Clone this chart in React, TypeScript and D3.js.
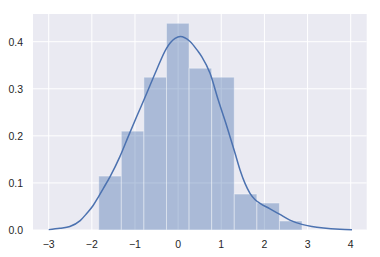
import React from "react";
import * as d3 from "d3";

const binEdges = [-1.841, -1.317, -0.794, -0.270, 0.254, 0.777, 1.301, 1.825, 2.348, 2.872];
const binDensity = [0.1146, 0.210, 0.3246, 0.4392, 0.3437, 0.3246, 0.0764, 0.0573, 0.0191];

const kdeX = [-3.0, -2.74, -2.51, -2.27, -2.12, -1.97, -1.85, -1.73, -1.58, -1.35, -1.15, -0.96, -0.73, -0.5, -0.27, -0.07, 0.05, 0.27, 0.45, 0.55, 0.74, 0.93, 1.13, 1.32, 1.435, 1.55, 1.666, 1.78, 1.9, 2.13, 2.36, 2.59, 2.87, 3.1, 3.37, 3.75, 4.03];
const kdeY = [0.0008, 0.0036, 0.0075, 0.02, 0.035, 0.052, 0.07, 0.089, 0.113, 0.156, 0.2, 0.241, 0.29, 0.34, 0.386, 0.407, 0.411, 0.401, 0.381, 0.368, 0.333, 0.276, 0.22, 0.163, 0.1275, 0.099, 0.078, 0.065, 0.0567, 0.045, 0.033, 0.021, 0.012, 0.0075, 0.0042, 0.0015, 0.0005];

const xTicks = [-3, -2, -1, 0, 1, 2, 3, 4];
const yTicks = [0.0, 0.1, 0.2, 0.3, 0.4];

export default function App() {
  const W = 380, H = 257;
  const left = 33, right = 366.7, top = 14, bottom = 230;
  const x = d3.scaleLinear().domain([-3.364, 4.371]).range([left, right]);
  const y = d3.scaleLinear().domain([0, 0.4589]).range([bottom, top]);
  const color = "#4C72B0";
  const line = d3.line<number>()
    .x((_, i) => x(kdeX[i]))
    .y((d) => y(d))
    .curve(d3.curveMonotoneX);
  const font = "'Liberation Sans', Arial, sans-serif";
  return (
    <svg width={W} height={H} style={{ position: "absolute", left: 0, top: 0 }}>
      <rect x={0} y={0} width={W} height={H} fill="#fff" />
      <rect x={left} y={top} width={right - left} height={bottom - top} fill="#EAEAF2" />
      {xTicks.map((t) => (
        <line key={"gx" + t} x1={x(t)} x2={x(t)} y1={top} y2={bottom} stroke="#fff" strokeWidth={1} />
      ))}
      {yTicks.map((t) => (
        <line key={"gy" + t} x1={left} x2={right} y1={y(t)} y2={y(t)} stroke="#fff" strokeWidth={1} />
      ))}
      {binDensity.map((d, i) => (
        <rect
          key={"b" + i}
          x={x(binEdges[i])}
          y={y(d)}
          width={x(binEdges[i + 1]) - x(binEdges[i])}
          height={y(0) - y(d)}
          fill={color}
          fillOpacity={0.4}
          stroke="#fff"
          strokeOpacity={0.4}
          strokeWidth={1}
        />
      ))}
      <path d={line(kdeY) || ""} fill="none" stroke={color} strokeWidth={1.5} />
      {xTicks.map((t) => (
        <text key={"tx" + t} x={x(t)} y={248} textAnchor="middle" fontSize={10.5} fontFamily={font} fill="#262626">
          {t < 0 ? "\u2212" + Math.abs(t) : String(t)}
        </text>
      ))}
      {yTicks.map((t) => (
        <text key={"ty" + t} x={23} y={y(t) + 3.8} textAnchor="end" fontSize={10.5} fontFamily={font} fill="#262626">
          {t.toFixed(1)}
        </text>
      ))}
    </svg>
  );
}
